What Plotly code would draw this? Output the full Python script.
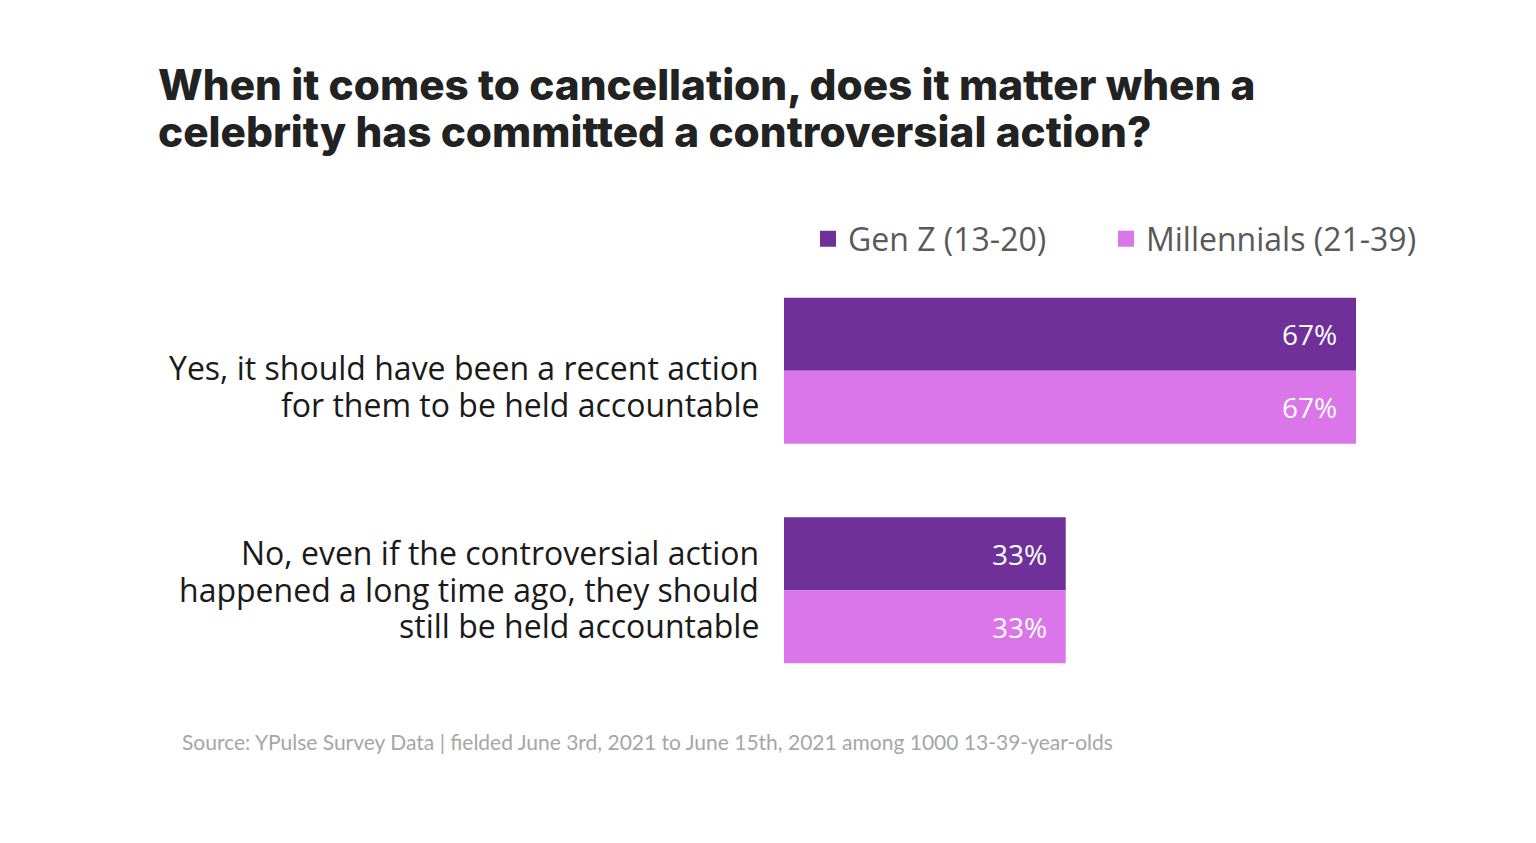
import plotly.graph_objects as go

categories = [
    "Yes, it should have been a recent action<br>for them to be held accountable",
    "No, even if the controversial action<br>happened a long time ago, they should<br>still be held accountable",
]
series_names = ["Gen Z (13-20)", "Millennials (21-39)"]
genz = [67, 33]
millennials = [67, 33]
colors = ["#70309A", "#DA76E9"]
title_lines = [
    "When it comes to cancellation, does it matter when a",
    "celebrity has committed a controversial action?",
]
source_text = ("Source: YPulse Survey Data | fielded June 3rd, 2021 to June 15th, "
               "2021 among 1000 13-39-year-olds")

BODY = "Open Sans"
bargap = 0.335

# plot area geometry (pixels)
W, H = 1536, 843
L, R, T, B = 784, 69, 261, 143
PW, PH = W - L - R, H - T - B


def px_x(x):
    return (x - L) / PW


def px_y(y):
    return (H - B - y) / PH


legend_ids = ["legend", "legend2"]
legend_x_px = [808, 1106]

fig = go.Figure()
for name, vals, col, lid in zip(series_names, [genz, millennials], colors, legend_ids):
    fig.add_trace(go.Bar(
        y=categories, x=vals, orientation="h", name=name,
        marker=dict(color=col, line=dict(width=0)), showlegend=False,
        hoverinfo="skip",
    ))
    fig.add_trace(go.Scatter(
        x=[None], y=[None], mode="markers", name=name, legend=lid,
        marker=dict(symbol="square", size=16, color=col),
    ))

annotations = []
# value labels
half = (1 - bargap) / 4
for k, vals in enumerate([genz, millennials]):
    off = -half if k == 0 else half
    for i, v in enumerate(vals):
        annotations.append(dict(
            x=v, y=i + off, xref="x", yref="y", text=f"{v}%",
            xanchor="right", yanchor="middle", xshift=-17, showarrow=False,
            font=dict(family=BODY, size=28, color="white"),
        ))
# category labels, one annotation per line for tight line spacing
block_offsets = [15, -1]
line_h = 36.5
for i, c in enumerate(categories):
    lines = c.split("<br>")
    n = len(lines)
    for j, line in enumerate(lines):
        down = block_offsets[i] + (j - (n - 1) / 2) * line_h
        annotations.append(dict(
            x=0, y=i, xref="paper", yref="y", text=line, align="right",
            xanchor="right", yanchor="middle", xshift=-23, yshift=-down,
            showarrow=False, font=dict(family=BODY, size=32, color="#1a1a1a"),
        ))
# title, one annotation per line
for j, line in enumerate(title_lines):
    annotations.append(dict(
        x=px_x(156), y=px_y(84 + 48 * j), xref="paper", yref="paper",
        xanchor="left", yanchor="middle", align="left", showarrow=False,
        text=line,
        font=dict(family="Inter", size=42.3, color="#222222", weight=800),
    ))
# source
annotations.append(dict(
    x=px_x(180), y=px_y(741), xref="paper", yref="paper",
    xanchor="left", yanchor="middle", showarrow=False,
    text=source_text,
    font=dict(family="Lato", size=21, color="#a6a6a6"),
))

legend_style = dict(orientation="h", xanchor="left", y=px_y(239), yanchor="middle",
                    font=dict(family=BODY, size=32, color="#595959"),
                    itemclick=False, itemdoubleclick=False,
                    bgcolor="rgba(0,0,0,0)")

fig.update_layout(
    width=W, height=H,
    margin=dict(l=L, r=R, t=T, b=B),
    paper_bgcolor="white", plot_bgcolor="white",
    barmode="group", bargap=bargap, bargroupgap=0,
    xaxis=dict(range=[0, 80], visible=False, fixedrange=True),
    yaxis=dict(autorange="reversed", showticklabels=False, showgrid=False,
               zeroline=False, showline=False, ticks="", fixedrange=True),
    showlegend=True,
    legend=dict(x=px_x(legend_x_px[0]), **legend_style),
    legend2=dict(x=px_x(legend_x_px[1]), **legend_style),
    annotations=annotations,
)

fig.write_html("out.html")
